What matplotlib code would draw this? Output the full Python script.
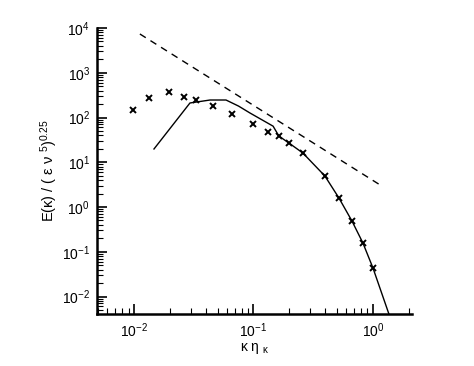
import matplotlib
matplotlib.use("Agg")
import matplotlib.pyplot as plt
from matplotlib.ticker import LogLocator, NullFormatter, LogFormatterSciNotation

plt.rcParams['font.family'] = ['Liberation Sans', 'DejaVu Sans']
plt.rcParams['mathtext.fontset'] = 'custom'
plt.rcParams['mathtext.rm'] = 'Liberation Sans'
plt.rcParams['mathtext.it'] = 'Liberation Sans:italic'
plt.rcParams['axes.unicode_minus'] = False

# Data
marker_x = [0.0098, 0.0134, 0.0196, 0.0262, 0.033, 0.0458, 0.066, 0.099, 0.132,
            0.163, 0.198, 0.259, 0.396, 0.519, 0.667, 0.824, 1.0]
marker_y = [147, 273, 371, 287, 246, 181, 120, 71.6, 47.4,
            38.6, 26.9, 16.1, 4.93, 1.59, 0.487, 0.157, 0.0434]

line_x = [0.0147, 0.0294, 0.0433, 0.0589, 0.075, 0.0935, 0.146, 0.163, 0.198,
          0.259, 0.396, 0.519, 0.667, 0.824, 1.0, 1.36]
line_y = [19.8, 211, 246, 246, 180, 126, 64, 38.6, 26.9,
          16.1, 4.93, 1.59, 0.487, 0.157, 0.0434, 0.00406]

dash_x = [0.0112, 1.15]
dash_y = [7350, 3.1]

x_ticks = [0.01, 0.1, 1.0]
y_ticks = [1e-2, 1e-1, 1e0, 1e1, 1e2, 1e3, 1e4]

fig = plt.figure(figsize=(4.74, 3.66), dpi=100)
ax = fig.add_axes([0.2046, 0.142, 0.6645, 0.7815])

ax.plot(line_x, line_y, color='black', lw=1.0)
ax.plot(dash_x, dash_y, color='black', lw=1.0, linestyle=(0, (5, 4)))
ax.plot(marker_x, marker_y, linestyle='none', marker='x', color='black',
        markersize=4.8, markeredgewidth=1.4)

ax.set_xscale('log')
ax.set_yscale('log')
ax.set_xlim(0.0049, 2.12)
ax.set_ylim(0.00406, 1e4)

for s in ['top', 'right']:
    ax.spines[s].set_visible(False)
for s in ['left', 'bottom']:
    ax.spines[s].set_linewidth(1.8)

ax.set_xticks(x_ticks)
ax.set_yticks(y_ticks)
ax.xaxis.set_major_formatter(LogFormatterSciNotation())
ax.yaxis.set_major_formatter(LogFormatterSciNotation())
ax.xaxis.set_minor_locator(LogLocator(base=10, subs=range(2, 10), numticks=20))
ax.yaxis.set_minor_locator(LogLocator(base=10, subs=range(2, 10), numticks=20))
ax.xaxis.set_minor_formatter(NullFormatter())
ax.yaxis.set_minor_formatter(NullFormatter())

ax.tick_params(which='major', direction='in', length=7, width=1.2, labelsize=10, pad=5)
ax.tick_params(which='minor', direction='in', length=4, width=0.8)

ax.set_xlabel(r'κ η $_{\mathregular{κ}}$', fontsize=10, labelpad=1)
ax.set_ylabel(r'E(κ) / ( ε ν $^{\mathregular{5}}$)$^{\mathregular{0.25}}$', fontsize=10.5, labelpad=1)

fig.savefig('out.png', dpi=100)
